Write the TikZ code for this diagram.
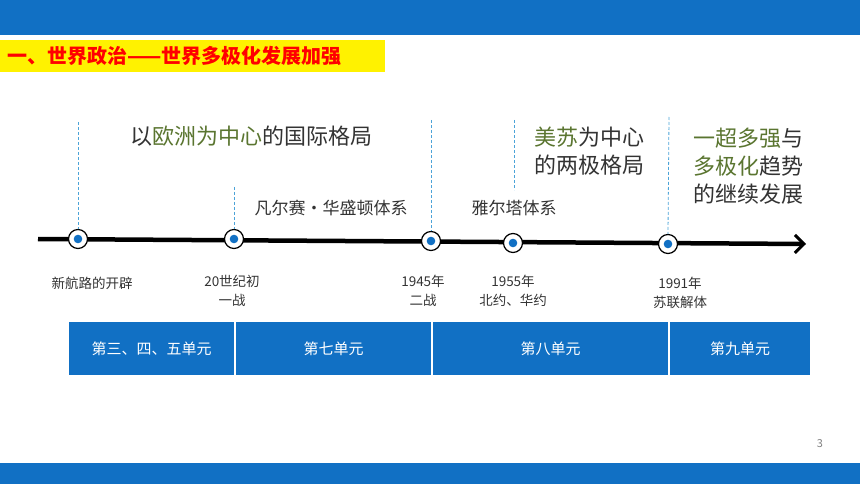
\documentclass[tikz,border=0pt]{standalone}
\usepackage{fontspec}
\setmainfont{Noto Sans CJK SC}
\usetikzlibrary{arrows.meta}
\definecolor{bblue}{HTML}{1170C4}
\definecolor{dgreen}{HTML}{5A7530}
\definecolor{dgray}{HTML}{333333}
\definecolor{dashblue}{HTML}{4BA3D8}
\begin{document}
\begin{tikzpicture}[x=1pt,y=-1pt,
  dot/.style={circle,draw=black,line width=1.2pt,fill=white,minimum size=19pt,inner sep=0pt},
  dl/.style={draw=dashblue,densely dashed,line width=0.8pt},
  big/.style={text=dgray,font=\fontsize{22}{28}\selectfont,align=center},
  mid/.style={text=dgray,font=\fontsize{17}{21}\selectfont},
  sm/.style={text=dgray,font=\fontsize{13.5}{19}\selectfont,align=center},
  unit/.style={fill=bblue,text=white,font=\fontsize{15}{18}\selectfont,minimum height=53pt,inner sep=0pt,anchor=north west}]
\useasboundingbox (0,0) rectangle (860,484);
\fill[bblue] (0,0) rectangle (860,35);
\fill[bblue] (0,463) rectangle (860,484);
\node[fill=yellow,anchor=north west,minimum width=385pt,minimum height=32pt,inner sep=0pt] (tb) at (0,40) {};
\node[text=red,font=\bfseries\fontsize{20}{24}\selectfont,anchor=west] (tt) at (4,56) {一、世界政治——世界多极化发展加强};
% timeline
\coordinate (s) at (38,239);
\coordinate (e) at (806,244);
\draw[line width=4.5pt,-{Straight Barb[length=9pt,width=18pt,line width=3pt]}] (s) -- (e);
\foreach \n/\x/\y in {a/78/239,b/234/239,c/431/241,d/513/243,f/668/244}{
  \node[dot] (\n) at (\x,\y) {};
  \fill[bblue] (\n) circle (4.3pt);
}
\coordinate (ta) at (78,122); \coordinate (tb2) at (234,187);
\coordinate (tc) at (431,120); \coordinate (td) at (514,120); \coordinate (td2) at (514,190);
\coordinate (tf) at (669,117);
\draw[dl] (ta) -- (a.north);
\draw[dl] (tb2) -- (b.north);
\draw[dl] (tc) -- (c.north);
\draw[dl] (td) -- (td2);
\draw[dl] (tf) -- (f.north);
\node[big] (l1) at (251,136) {以\textcolor{dgreen}{欧洲为中心}的国际格局};
\node[big] (l2) at (589,151) {\textcolor{dgreen}{美苏}为中心\\的两极格局};
\node[big] (l3) at (748,166) {\textcolor{dgreen}{一超多强}与\\\textcolor{dgreen}{多极化}趋势\\的继续发展};
\node[mid] (v) at (331,208) {凡尔赛·华盛顿体系};
\node[mid] (y) at (514,208) {雅尔塔体系};
\node[sm] (n1) at (92,283) {新航路的开辟};
\node[sm] (n2) at (232,291) {20世纪初\\一战};
\node[sm] (n3) at (423,291) {1945年\\二战};
\node[sm] (n4) at (513,291) {1955年\\北约、华约};
\node[sm] (n5) at (680,293) {1991年\\苏联解体};
\node[unit,minimum width=165pt] (u1) at (69,322) {第三、四、五单元};
\node[unit,minimum width=195pt] (u2) at (236,322) {第七单元};
\node[unit,minimum width=235pt] (u3) at (433,322) {第八单元};
\node[unit,minimum width=140pt] (u4) at (670,322) {第九单元};
\node[text=gray,font=\fontsize{11}{13}\selectfont] (pg) at (820,444) {3};
\end{tikzpicture}
\end{document}
